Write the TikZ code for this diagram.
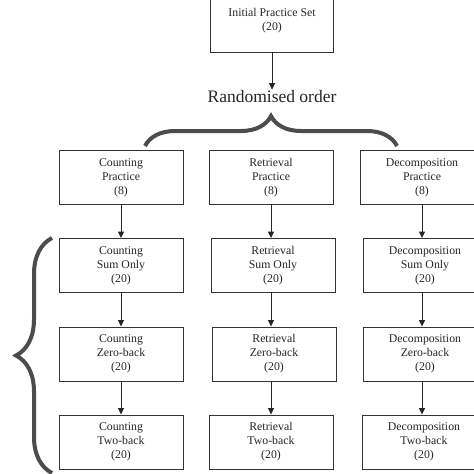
\documentclass[tikz,border=0pt]{standalone}
\usepackage{fontspec}
\setmainfont{Liberation Serif}
\usetikzlibrary{decorations.pathreplacing,arrows.meta}

\begin{document}
\begin{tikzpicture}[x=1pt,y=1pt,
  box/.style={draw=black!80,line width=0.9pt,text=black!85,align=center,
    minimum width=124pt,minimum height=54pt,inner sep=0pt,
    font=\fontsize{11.8}{14}\selectfont},
  link/.style={draw=black!85,line width=0.9pt,-{Triangle[length=6.5pt,width=6pt]}},
  curly/.style={draw=black!70,line width=4pt,decorate}]
\clip (0,0) rectangle (474,-474);
\fill[white] (0,0) rectangle (474,-474);
% top of the chart
\node[box,minimum width=123pt,minimum height=62pt] (init) at (272,-21) {Initial Practice Set\\(20)};
\node[text=black!85,inner sep=1pt,font=\fontsize{17.5}{20}\selectfont] (rand) at (272,-97) {Randomised order};
\draw[link] (init.south) -- (rand.north);
\draw[curly,decoration={brace,amplitude=30pt}] (145,-146) -- (397,-146);
% practice row
\node[box] (cp) at (121,-177.5) {Counting\\Practice\\(8)};
\node[box] (rp) at (271,-177.5) {Retrieval\\Practice\\(8)};
\node[box] (dp) at (422,-177.5) {Decomposition\\Practice\\(8)};
% sum only row
\node[box] (cs) at (121,-265.5) {Counting\\Sum Only\\(20)};
\node[box] (rs) at (273,-265.5) {Retrieval\\Sum Only\\(20)};
\node[box] (ds) at (425,-265.5) {Decomposition\\Sum Only\\(20)};
% zero-back row
\node[box] (cz) at (121,-354) {Counting\\Zero-back\\(20)};
\node[box] (rz) at (274,-354) {Retrieval\\Zero-back\\(20)};
\node[box] (dz) at (425,-354) {Decomposition\\Zero-back\\(20)};
% two-back row
\node[box] (ct) at (121,-442) {Counting\\Two-back\\(20)};
\node[box] (rt) at (271,-442) {Retrieval\\Two-back\\(20)};
\node[box] (dt) at (424,-442) {Decomposition\\Two-back\\(20)};
\draw[curly,decoration={brace,amplitude=36pt}] (52,-473) -- (52,-238);
% arrows
\draw[link] (cp.south) -- (cs.north);
\draw[link] (cs.south) -- (cz.north);
\draw[link] (cz.south) -- (ct.north);
\draw[link] (rp.south) -- (rp.south|-rs.north);
\draw[link] (rs.south-|rp.south) -- (rp.south|-rz.north);
\draw[link] (rz.south-|rp.south) -- (rp.south|-rt.north);
\draw[link] (dp.south) -- (dp.south|-ds.north);
\draw[link] (ds.south-|dp.south) -- (dp.south|-dz.north);
\draw[link] (dz.south-|dp.south) -- (dp.south|-dt.north);
\end{tikzpicture}
\end{document}
